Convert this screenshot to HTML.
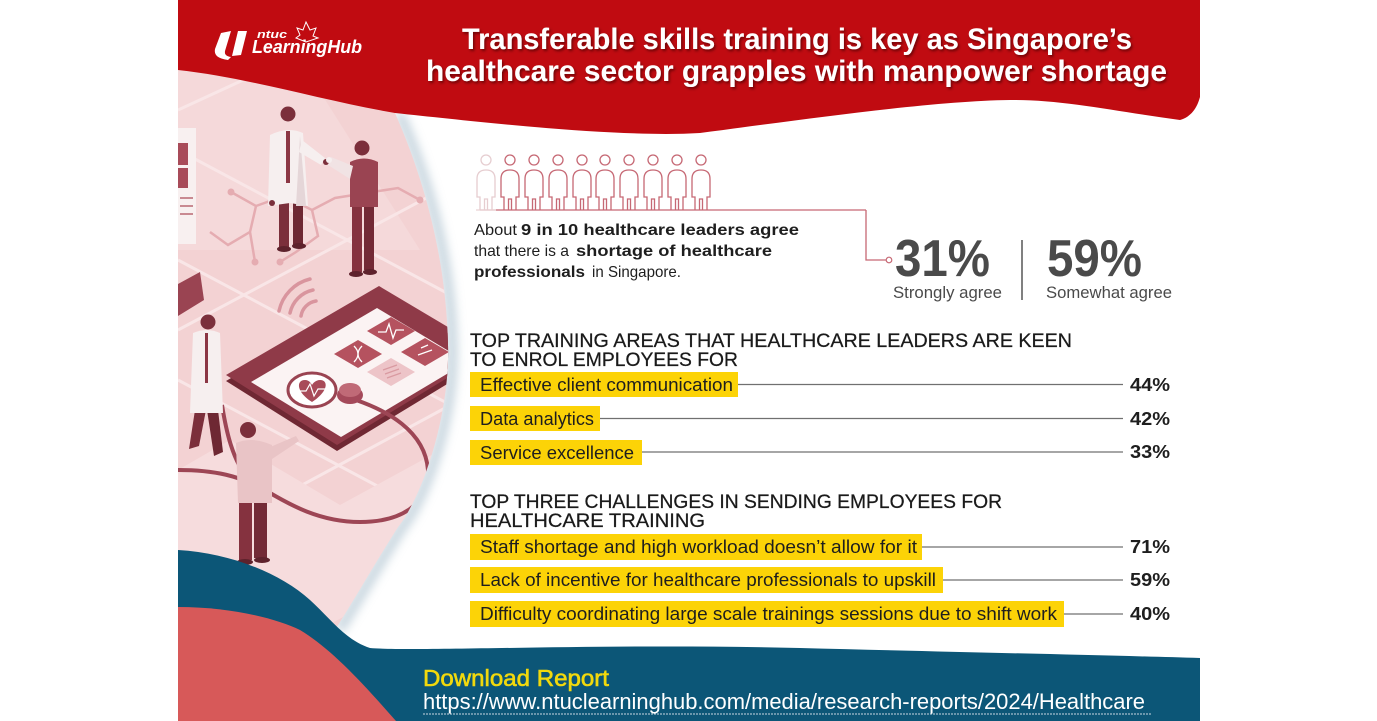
<!DOCTYPE html>
<html><head><meta charset="utf-8"><style>
html,body{margin:0;padding:0;background:#fff;}
svg{display:block;font-family:"Liberation Sans",sans-serif;}
</style></head><body>
<svg width="1377" height="721" viewBox="0 0 1377 721" xmlns="http://www.w3.org/2000/svg">
<defs>
 <clipPath id="pk"><path d="M178,40 H395 V113 C420,170 446,250 448,345 C450,420 420,500 398,527 C380,555 360,590 335,630 L178,630 Z"/></clipPath>
 <filter id="ts" x="-5%" y="-20%" width="110%" height="150%"><feDropShadow dx="1.5" dy="2" stdDeviation="1.2" flood-color="#3a0000" flood-opacity="0.6"/></filter>
 <filter id="bl" x="-20%" y="-20%" width="140%" height="140%"><feGaussianBlur stdDeviation="5"/></filter>
 <g id="fig" fill="none" stroke-width="1.3">
  <circle cx="0" cy="160" r="5"/>
  <path d="M-6,210 V197 H-9 V179 Q-9,170 0,170 Q9,170 9,179 V197 H6 V210 M-1.5,210 V199 H1.5 V210"/>
 </g>
</defs>
<rect width="1377" height="721" fill="#fff"/>

<!-- shadow of white panel along pink edge -->
<path d="M395,113 C420,170 446,250 448,345 C450,420 420,500 398,527 C380,555 360,590 335,630" fill="none" stroke="#aac0ce" stroke-width="10" filter="url(#bl)" transform="translate(4,0)" opacity="0.7"/>

<!-- pink illustration -->
<g clip-path="url(#pk)">
 <rect x="178" y="40" width="280" height="600" fill="#f3d2d3"/>
 <path d="M178,60 L300,60 L420,250 L178,250 Z" fill="#f5d9da"/>
 <g stroke="#f9e6e7" stroke-width="3" fill="none">
  <path d="M178,150 L460,300"/><path d="M178,260 L460,410"/><path d="M178,380 L460,530"/>
  <path d="M178,330 L460,180"/><path d="M200,540 L460,400"/><path d="M178,110 L330,40"/>
 </g>
 <path d="M230,440 L340,505 L450,445 L450,560 L300,640 L178,560 L178,470 Z" fill="#f6dcdd"/>
 <g stroke="#e5acb1" stroke-width="2.5" fill="none">
  <path d="M231,192 L256,206 L250,232 L228,245 L210,232 M256,206 L284,196 L312,210 L318,236 L296,252 L280,262 M312,210 L335,198 L398,188 L420,200 M250,232 L255,262"/>
 </g>
 <g fill="#e5acb1"><circle cx="231" cy="192" r="3.5"/><circle cx="255" cy="262" r="3.5"/><circle cx="420" cy="200" r="3.5"/><circle cx="280" cy="262" r="3.5"/></g>
 <rect x="178" y="128" width="18" height="116" fill="#f8f0f0"/>
 <rect x="178" y="143" width="10" height="22" fill="#a84b59"/>
 <rect x="178" y="168" width="10" height="20" fill="#a84b59"/>
 <g stroke="#c98a92" stroke-width="2"><path d="M180,198 H193 M180,206 H193 M180,214 H193"/></g>
 <rect x="279" y="200" width="10" height="47" fill="#7b2f3b"/>
 <rect x="293" y="200" width="10" height="45" fill="#6e2833"/>
 <ellipse cx="284" cy="249" rx="7" ry="3" fill="#5e222c"/><ellipse cx="299" cy="246" rx="7" ry="3" fill="#5e222c"/>
 <path d="M270,135 Q288,126 303,133 L308,206 L290,203 L268,206 Z" fill="#f6efef"/>
 <path d="M300,136 L306,206 L296,206 Z" fill="#e5d6d8"/>
 <rect x="286" y="131" width="4" height="52" fill="#8b3644"/>
 <path d="M302,140 L325,158 L321,165 L299,152 Z" fill="#f6efef"/>
 <circle cx="326" cy="162" r="3" fill="#7b2f3b"/>
 <circle cx="272" cy="203" r="3" fill="#7b2f3b"/>
 <circle cx="288" cy="114" r="7.5" fill="#7b2f3b"/>
 <rect x="352" y="204" width="10" height="68" fill="#85323f"/>
 <rect x="364" y="204" width="10" height="66" fill="#732a36"/>
 <ellipse cx="356" cy="274" rx="7" ry="3" fill="#5e222c"/><ellipse cx="370" cy="272" rx="7" ry="3" fill="#5e222c"/>
 <path d="M350,162 Q364,155 378,162 L378,207 L350,207 Z" fill="#9a4452"/>
 <path d="M353,166 L331,157 L328,165 L350,179 Z" fill="#f1e3e4"/>
 <circle cx="329" cy="160" r="3" fill="#f6efef"/>
 <circle cx="362" cy="148" r="7.5" fill="#7b2f3b"/>
 <g stroke="#d9959e" stroke-width="3.5" fill="none" stroke-linecap="round">
  <path d="M301,316 A18,18 0 0 1 316,301"/>
  <path d="M290,313 A30,30 0 0 1 313,290"/>
  <path d="M279,311 A42,42 0 0 1 310,279"/>
 </g>
 <path d="M178,284 L200,272 L204,300 L178,316 Z" fill="#9a4452"/>
 <path d="M226,381 L379,292 L490,358 L337,451 Z" fill="#6f2833"/>
 <path d="M226,375 L379,286 L490,352 L337,445 Z" fill="#8f3a48"/>
 <path d="M251,382 L377,308 L467,362 L341,437 Z" fill="#fbf3f3"/>
 <path d="M391,317 L415,331 L391,345 L367,331 Z" fill="#b5525f"/>
 <path d="M358,340 L382,354 L358,368 L334,354 Z" fill="#b5525f"/>
 <path d="M425,338 L449,352 L425,366 L401,352 Z" fill="#b5525f"/>
 <path d="M391,358 L415,372 L391,386 L367,372 Z" fill="#edc4c8"/>
 <g stroke="#fff" stroke-width="1.3" fill="none">
  <path d="M378,332 H386 L389,324 L393,338 L396,330 H404"/>
  <path d="M354,346 Q362,354 354,362 M362,346 Q354,354 362,362"/>
  <path d="M418,355 L432,350 M421,348 L428,345"/>
 </g>
 <g stroke="#d99aa1" stroke-width="1.2"><path d="M383,370 L397,365 M385,374 L399,369 M387,378 L401,373"/></g>
 <ellipse cx="312" cy="390" rx="24" ry="17" fill="#fff" stroke="#9a4452" stroke-width="3"/>
 <path d="M312,402 C296,392 296,380 305,380 C309,380 311,383 312,385 C313,383 316,380 320,380 C329,380 328,392 312,402 Z" fill="#a84b59"/>
 <path d="M296,391 H306 L310,384 L314,396 L318,389 H330" stroke="#fff" stroke-width="1.2" fill="none"/>
 <g stroke="#9d4655" stroke-width="4" fill="none">
  <path d="M356,400 C385,410 425,430 428,470 C430,505 400,522 360,522 C320,522 290,505 265,490 C240,476 215,470 178,470"/>
  <path d="M222,405 C226,430 232,460 250,482"/>
 </g>
 <ellipse cx="350" cy="395" rx="13" ry="9" fill="#a4495a"/>
 <ellipse cx="350" cy="390" rx="11" ry="7" fill="#c06a77"/>
 <path d="M195,410 L206,410 L199,446 L189,449 Z" fill="#7b2f3b"/>
 <path d="M207,410 L218,410 L223,452 L214,456 Z" fill="#6e2833"/>
 <path d="M193,333 Q207,327 220,333 L223,413 L190,413 Z" fill="#f6efef"/>
 <rect x="205" y="333" width="3" height="50" fill="#8b3644"/>
 <circle cx="208" cy="322" r="7.5" fill="#7b2f3b"/>
 <rect x="239" y="500" width="13" height="60" fill="#85323f"/>
 <rect x="254" y="500" width="13" height="58" fill="#732a36"/>
 <ellipse cx="245" cy="562" rx="8" ry="3" fill="#5e222c"/><ellipse cx="262" cy="560" rx="8" ry="3" fill="#5e222c"/>
 <path d="M236,443 Q252,436 272,445 L272,503 L238,503 Z" fill="#e9c4c6"/>
 <path d="M268,448 L296,436 L299,441 L272,459 Z" fill="#e9c4c6"/>
 <circle cx="248" cy="430" r="8" fill="#7b2f3b"/>
</g>

<path d="M178,550 C230,553 280,573 310,600 C330,618 345,640 370,648 C420,652 600,643 800,648 C950,652 1100,655 1200,658 V721 H178 Z" fill="#0c5677"/>
<path d="M178,607 C230,607 275,618 300,630 C330,648 360,680 396,721 H178 Z" fill="#d75959"/>
<path d="M178,0 H1200 V97 C1197,108 1191,117 1180,120 C1120,112 1060,99 1010,100 C930,101 800,120 700,133 C620,138 480,122 395,113 C320,100 250,78 178,70 Z" fill="#c00b11"/>

<g fill="#fff">
 <path d="M221,33 L231,31 L225,51 Q224,56 231,57 L228,60 Q213,58 215,49 Z"/>
 <path d="M238,31 L247,31 L241,55 L232,56 Z"/>
 <text x="257" y="38" font-size="11" font-weight="bold" font-style="italic" textLength="30" lengthAdjust="spacingAndGlyphs">ntuc</text>
 <text x="252" y="53" font-size="18" font-weight="bold" font-style="italic" textLength="110" lengthAdjust="spacingAndGlyphs">LearningHub</text>
</g>
<path d="M306,22 L310,30 L316,28 L313,36 L318,38 L306,42 L296,38 L300,35 L297,28 L303,30 Z" fill="none" stroke="#fff" stroke-width="1"/>

<g fill="#fff" font-weight="bold" font-size="30" filter="url(#ts)">
 <text x="462" y="49" textLength="670" lengthAdjust="spacingAndGlyphs">Transferable skills training is key as Singapore’s</text>
 <text x="426" y="81" textLength="741" lengthAdjust="spacingAndGlyphs">healthcare sector grapples with manpower shortage</text>
</g>

<line x1="480" y1="210" x2="866" y2="210" stroke="#c66874" stroke-width="1.3"/>
<line x1="476" y1="210" x2="496" y2="210" stroke="#eddadc" stroke-width="1.5"/>
<path d="M866,210 V260 H886" fill="none" stroke="#c66874" stroke-width="1.3"/>
<circle cx="889" cy="260" r="2.8" fill="#fff" stroke="#c66874" stroke-width="1.2"/>
<g stroke="#e6cdd0"><use href="#fig" transform="translate(486,0)"/></g>
<g stroke="#c66874">
 <use href="#fig" transform="translate(510,0)"/>
 <use href="#fig" transform="translate(534,0)"/>
 <use href="#fig" transform="translate(558,0)"/>
 <use href="#fig" transform="translate(582,0)"/>
 <use href="#fig" transform="translate(605,0)"/>
 <use href="#fig" transform="translate(629,0)"/>
 <use href="#fig" transform="translate(653,0)"/>
 <use href="#fig" transform="translate(677,0)"/>
 <use href="#fig" transform="translate(701,0)"/>
</g>

<g fill="#1e1e1e" font-size="16">
 <text x="474" y="235" textLength="43" lengthAdjust="spacingAndGlyphs">About</text>
 <text x="521" y="235" font-weight="bold" textLength="278" lengthAdjust="spacingAndGlyphs">9 in 10 healthcare leaders agree</text>
 <text x="474" y="256" textLength="95" lengthAdjust="spacingAndGlyphs">that there is a</text>
 <text x="576" y="256" font-weight="bold" textLength="196" lengthAdjust="spacingAndGlyphs">shortage of healthcare</text>
 <text x="474" y="277" font-weight="bold" textLength="111" lengthAdjust="spacingAndGlyphs">professionals</text>
 <text x="592" y="277" textLength="89" lengthAdjust="spacingAndGlyphs">in Singapore.</text>
</g>

<g fill="#4a4a4a">
 <text x="895" y="276" font-size="52" font-weight="bold" textLength="95" lengthAdjust="spacingAndGlyphs">31%</text>
 <text x="1047" y="276" font-size="52" font-weight="bold" textLength="95" lengthAdjust="spacingAndGlyphs">59%</text>
 <text x="893" y="298" font-size="17" textLength="109" lengthAdjust="spacingAndGlyphs">Strongly agree</text>
 <text x="1046" y="298" font-size="17" textLength="126" lengthAdjust="spacingAndGlyphs">Somewhat agree</text>
</g>
<line x1="1022" y1="240" x2="1022" y2="300" stroke="#555" stroke-width="1.5"/>

<g fill="#1a1a1a" font-size="19.5" stroke="#1a1a1a" stroke-width="0.25">
 <text x="470" y="347" textLength="602" lengthAdjust="spacingAndGlyphs">TOP TRAINING AREAS THAT HEALTHCARE LEADERS ARE KEEN</text>
 <text x="470" y="366" textLength="268" lengthAdjust="spacingAndGlyphs">TO ENROL EMPLOYEES FOR</text>
 <text x="470" y="508" textLength="532" lengthAdjust="spacingAndGlyphs">TOP THREE CHALLENGES IN SENDING EMPLOYEES FOR</text>
 <text x="470" y="527" textLength="235" lengthAdjust="spacingAndGlyphs">HEALTHCARE TRAINING</text>
</g>

<g fill="#fcd307">
 <rect x="470" y="372" width="268" height="25"/>
 <rect x="470" y="406" width="130" height="25"/>
 <rect x="470" y="440" width="172" height="25"/>
 <rect x="470" y="534" width="452" height="26"/>
 <rect x="470" y="567" width="473" height="26"/>
 <rect x="470" y="601" width="594" height="26"/>
</g>
<g stroke="#707070" stroke-width="1.3">
 <line x1="738" y1="384.5" x2="1123" y2="384.5"/>
 <line x1="600" y1="418.5" x2="1123" y2="418.5"/>
 <line x1="642" y1="452" x2="1123" y2="452"/>
 <line x1="922" y1="547" x2="1123" y2="547"/>
 <line x1="943" y1="580" x2="1123" y2="580"/>
 <line x1="1064" y1="614" x2="1123" y2="614"/>
</g>
<g fill="#1e1e1e" font-size="18">
 <text x="480" y="391" textLength="253" lengthAdjust="spacingAndGlyphs">Effective client communication</text>
 <text x="480" y="425" textLength="114" lengthAdjust="spacingAndGlyphs">Data analytics</text>
 <text x="480" y="459" textLength="154" lengthAdjust="spacingAndGlyphs">Service excellence</text>
 <text x="480" y="553" textLength="437" lengthAdjust="spacingAndGlyphs">Staff shortage and high workload doesn’t allow for it</text>
 <text x="480" y="586" textLength="456" lengthAdjust="spacingAndGlyphs">Lack of incentive for healthcare professionals to upskill</text>
 <text x="480" y="620" textLength="577" lengthAdjust="spacingAndGlyphs">Difficulty coordinating large scale trainings sessions due to shift work</text>
</g>
<g fill="#1e1e1e" font-size="18" font-weight="bold">
 <text x="1130" y="391" textLength="40" lengthAdjust="spacingAndGlyphs">44%</text>
 <text x="1130" y="425" textLength="40" lengthAdjust="spacingAndGlyphs">42%</text>
 <text x="1130" y="458" textLength="40" lengthAdjust="spacingAndGlyphs">33%</text>
 <text x="1130" y="553" textLength="40" lengthAdjust="spacingAndGlyphs">71%</text>
 <text x="1130" y="586" textLength="40" lengthAdjust="spacingAndGlyphs">59%</text>
 <text x="1130" y="620" textLength="40" lengthAdjust="spacingAndGlyphs">40%</text>
</g>

<text x="423" y="686" font-size="23" fill="#f2d90d" stroke="#f2d90d" stroke-width="0.6" textLength="186" lengthAdjust="spacingAndGlyphs">Download Report</text>
<text x="423" y="709" font-size="22" fill="#fff" textLength="722" lengthAdjust="spacingAndGlyphs">https://www.ntuclearninghub.com/media/research-reports/2024/Healthcare</text>
<line x1="423" y1="714" x2="1151" y2="714" stroke="#c8d6e0" stroke-width="1" stroke-dasharray="2,1"/>
</svg>
</body></html>
